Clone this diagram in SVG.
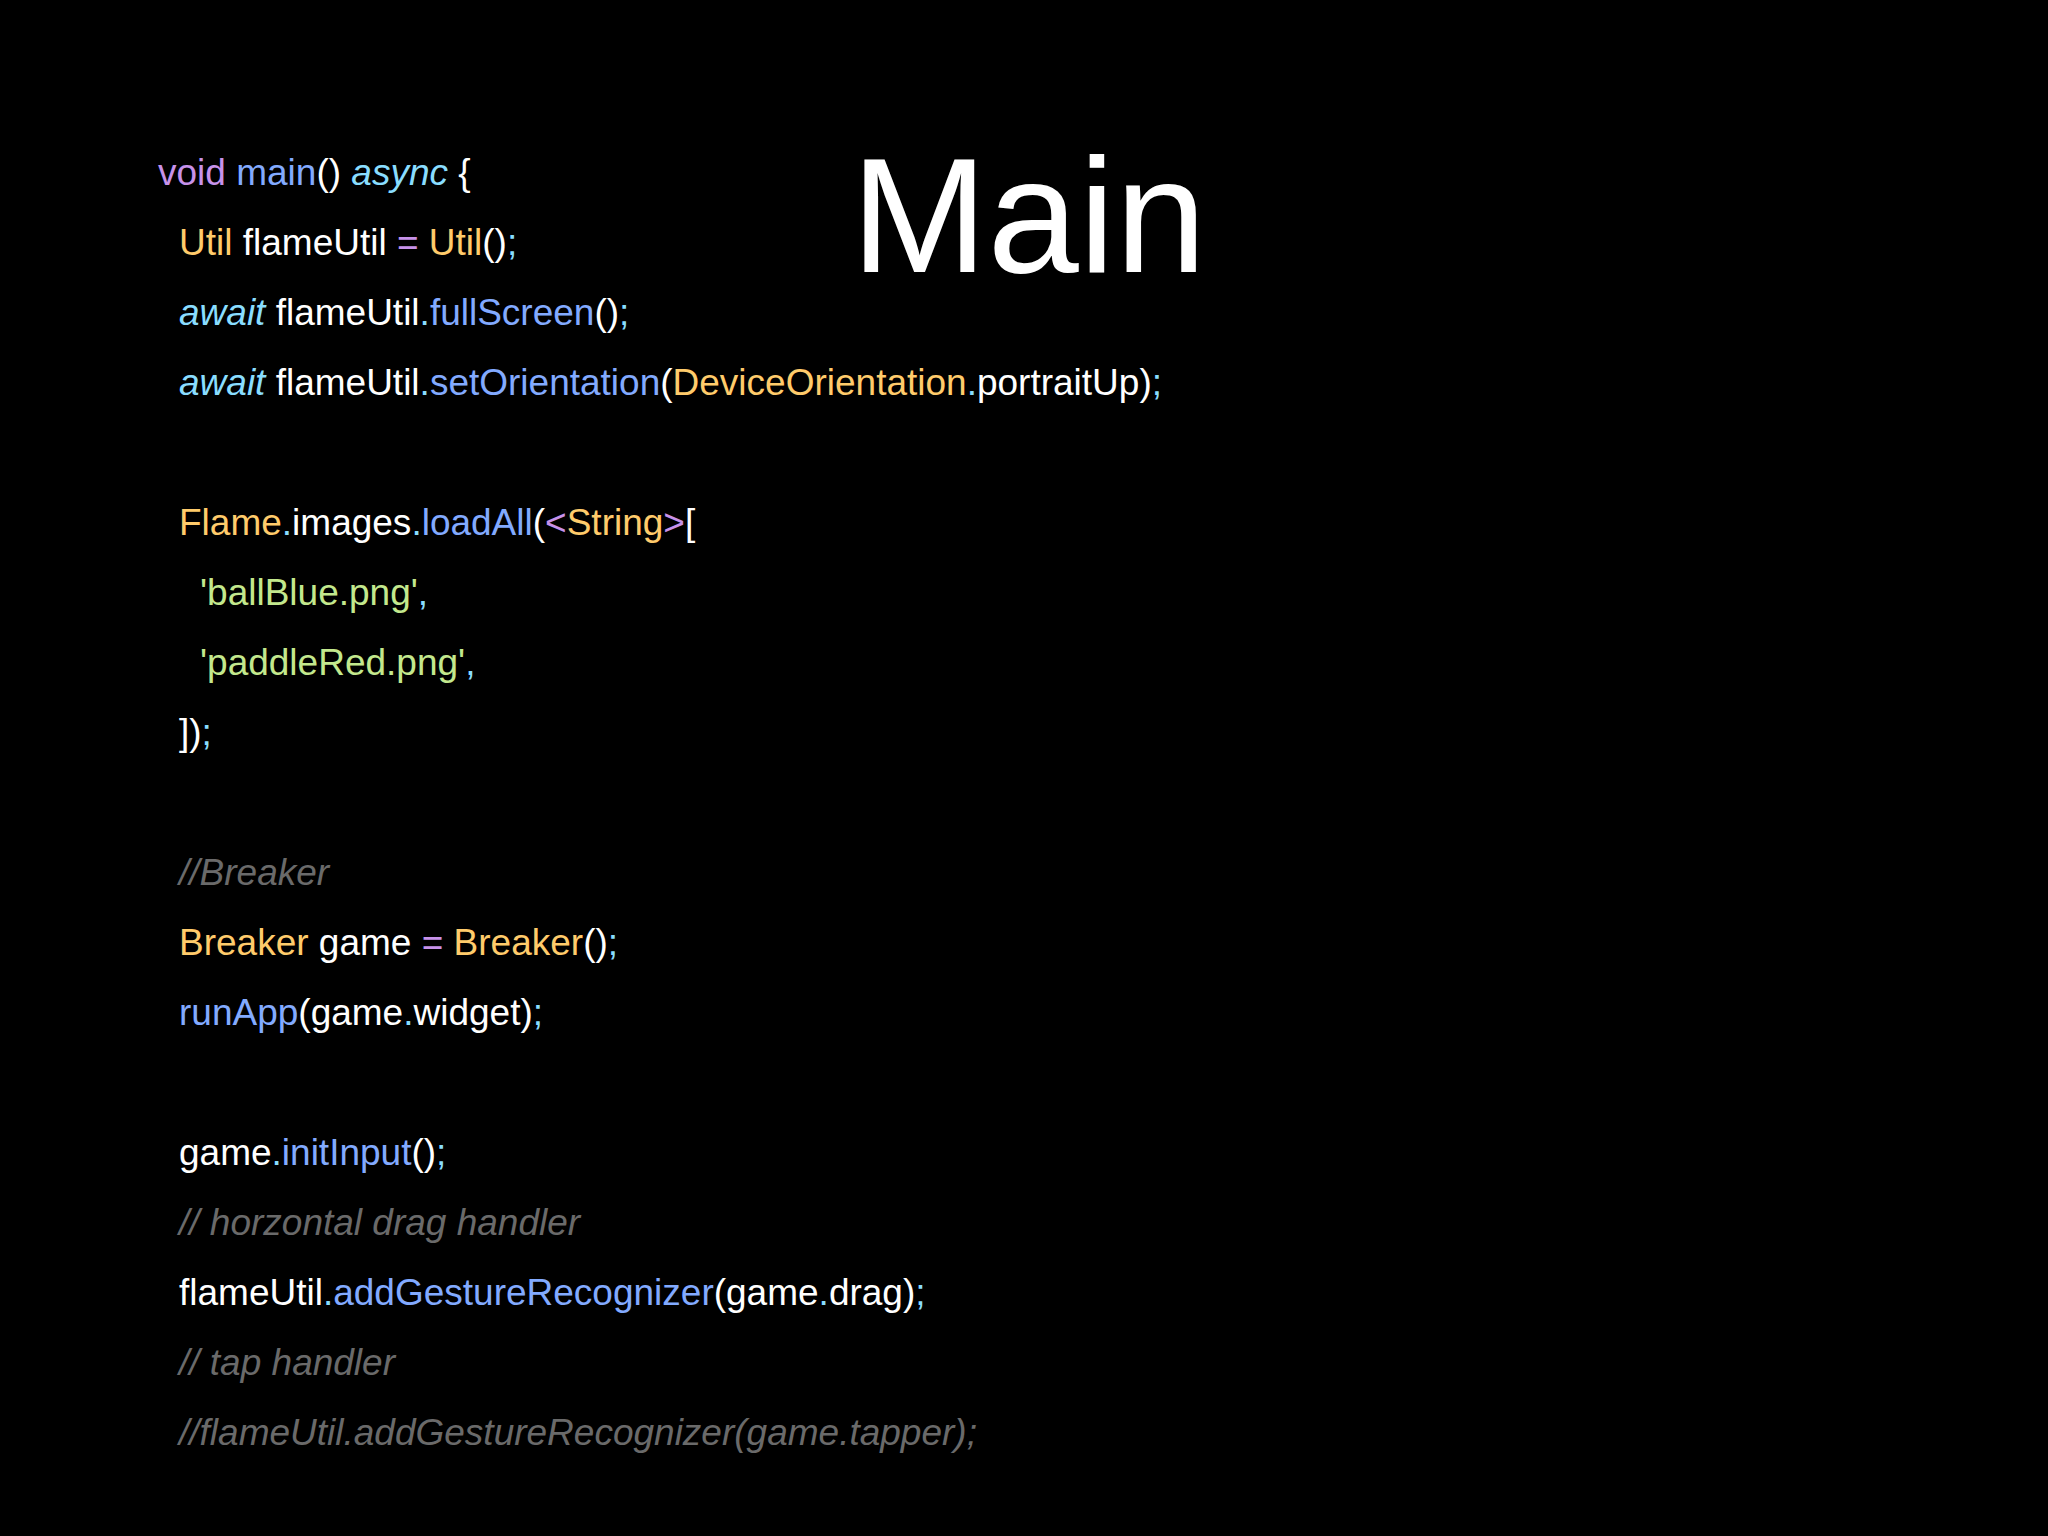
<svg xmlns="http://www.w3.org/2000/svg" width="2048" height="1536" viewBox="0 0 2048 1536">
<style>
text{font-family:"Liberation Sans",Arial,sans-serif;font-size:37px;fill:#ffffff}
.k{fill:#c792ea}.f{fill:#82aaff}.c{fill:#89ddff}.i{fill:#89ddff;font-style:italic}.y{fill:#ffcb6b}.g{fill:#c3e88d}.cm{fill:#6a6a6a;font-style:italic}
.t{font-size:164px}
</style>
<rect width="2048" height="1536" fill="#000"/>
<g id="title"><text class="t" x="851" y="272">Main</text></g>
<g id="code">
<text x="158" y="185"><tspan class="k">void</tspan> <tspan class="f">main</tspan>() <tspan class="i">async</tspan> {</text>
<text x="179" y="255"><tspan class="y">Util</tspan> flameUtil <tspan class="k">=</tspan> <tspan class="y">Util</tspan>()<tspan class="c">;</tspan></text>
<text x="179" y="325"><tspan class="i">await</tspan> flameUtil<tspan class="c">.</tspan><tspan class="f">fullScreen</tspan>()<tspan class="c">;</tspan></text>
<text x="179" y="395"><tspan class="i">await</tspan> flameUtil<tspan class="c">.</tspan><tspan class="f">setOrientation</tspan>(<tspan class="y">DeviceOrientation</tspan><tspan class="c">.</tspan>portraitUp)<tspan class="c">;</tspan></text>
<text x="179" y="535"><tspan class="y">Flame</tspan><tspan class="c">.</tspan>images<tspan class="c">.</tspan><tspan class="f">loadAll</tspan>(<tspan class="k">&lt;</tspan><tspan class="y">String</tspan><tspan class="k">&gt;</tspan>[</text>
<text x="200" y="605"><tspan class="g">'ballBlue.png'</tspan><tspan class="c">,</tspan></text>
<text x="200" y="675"><tspan class="g">'paddleRed.png'</tspan><tspan class="c">,</tspan></text>
<text x="179" y="745">])<tspan class="c">;</tspan></text>
<text x="179" y="885" class="cm">//Breaker</text>
<text x="179" y="955"><tspan class="y">Breaker</tspan> game <tspan class="k">=</tspan> <tspan class="y">Breaker</tspan>()<tspan class="c">;</tspan></text>
<text x="179" y="1025"><tspan class="f">runApp</tspan>(game<tspan class="c">.</tspan>widget)<tspan class="c">;</tspan></text>
<text x="179" y="1165">game<tspan class="c">.</tspan><tspan class="f">initInput</tspan>()<tspan class="c">;</tspan></text>
<text x="179" y="1235" class="cm">// horzontal drag handler</text>
<text x="179" y="1305">flameUtil<tspan class="c">.</tspan><tspan class="f">addGestureRecognizer</tspan>(game<tspan class="c">.</tspan>drag)<tspan class="c">;</tspan></text>
<text x="179" y="1375" class="cm">// tap handler</text>
<text x="179" y="1445" class="cm">//flameUtil.addGestureRecognizer(game.tapper);</text>
</g>
</svg>
